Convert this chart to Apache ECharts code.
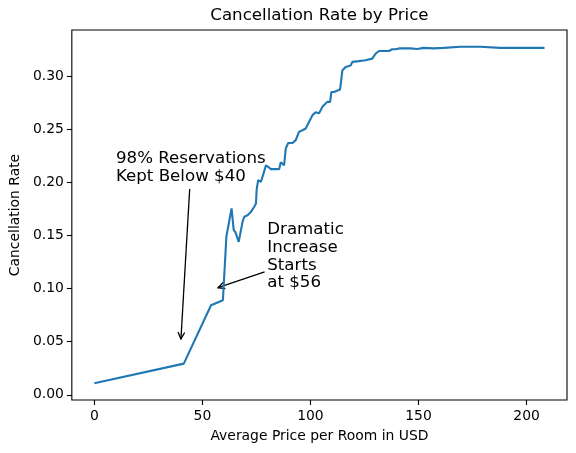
<!DOCTYPE html>
<html><head><meta charset="utf-8">
<script src="https://cdn.jsdelivr.net/npm/echarts@6/dist/echarts.min.js"></script>
<style>html,body{margin:0;padding:0;background:#fff}#c{width:576px;height:453px}</style>
</head><body><div id="c"></div>
<script>
// ---- data ----
const prices = [0, 41.4, 54.0, 59.5, 61.1, 63.5, 64.5, 65.3, 66.8, 68.6, 69.4, 70.1, 70.9, 72.4, 74.0, 74.8, 75.1, 75.8, 77.1, 78.1, 79.4, 80.4, 81.7, 84.0, 85.5, 86.3, 87.8, 88.6, 89.7, 91.7, 93.2, 94.7, 96.3, 97.8, 99.4, 100.9, 102.4, 104.0, 105.5, 107.8, 109.1, 109.7, 110.9, 113.7, 114.8, 116.3, 118.6, 119.4, 122.4, 125.5, 128.6, 130.1, 131.7, 136.3, 137.8, 139.4, 140.9, 146.3, 149.4, 152.4, 157.0, 161.7, 169.4, 178.6, 187.8, 195.5, 208.3];
const cancelRates = [0.011, 0.0294, 0.0843, 0.089, 0.149, 0.1755, 0.155, 0.153, 0.144, 0.163, 0.1676, 0.166, 0.169, 0.172, 0.177, 0.180, 0.193, 0.202, 0.2005, 0.207, 0.216, 0.2146, 0.2124, 0.2124, 0.2124, 0.219, 0.216, 0.232, 0.237, 0.237, 0.2397, 0.2475, 0.249, 0.2506, 0.257, 0.263, 0.266, 0.265, 0.271, 0.2757, 0.2757, 0.285, 0.285, 0.2873, 0.3055, 0.3085, 0.310, 0.3133, 0.314, 0.3148, 0.3164, 0.321, 0.3236, 0.3236, 0.3252, 0.3252, 0.326, 0.326, 0.3255, 0.3265, 0.326, 0.3265, 0.3275, 0.3275, 0.3265, 0.3265, 0.3265];
const xTicks = [0, 50, 100, 150, 200];
const yTicks = [0, 0.05, 0.10, 0.15, 0.20, 0.25, 0.30];
const titleText = 'Cancellation Rate by Price';
const xLabel = 'Average Price per Room in USD';
const yLabel = 'Cancellation Rate';
const annoTexts = ['98% Reservations\nKept Below $40', 'Dramatic\nIncrease\nStarts\nat $56'];
const annoPoints = [[40, 0.05], [56, 0.10]];
const annoTextPos = [[10, 0.20], [80, 0.10]];

// ---- chart ----
const FONT = '"DejaVu Sans", sans-serif';
const chart = echarts.init(document.getElementById('c'), null, {renderer: 'canvas'});
const seriesData = prices.map((p, i) => [p, cancelRates[i]]);
const xSpan = 208.3, ySpanMin = 0.011, ySpanMax = 0.3275;
const xPad = xSpan * 0.05, yPad = (ySpanMax - ySpanMin) * 0.05;

chart.setOption({
  animation: false,
  backgroundColor: '#fff',
  grid: {left: 70, top: 30, right: 9, bottom: 53, show: true, borderColor: '#000', borderWidth: 1.1, backgroundColor: 'transparent'},
  xAxis: {
    type: 'value', min: 0 - xPad, max: xSpan + xPad,
    axisLine: {show: false, onZero: false},
    splitLine: {show: false},
    axisTick: {show: true, length: 5, lineStyle: {color: '#000', width: 1.1}, customValues: xTicks},
    axisLabel: {customValues: xTicks, fontSize: 13.9, color: '#000', fontFamily: FONT, margin: 9},
    name: xLabel, nameLocation: 'middle', nameGap: 29,
    nameTextStyle: {fontSize: 13.9, color: '#000', fontFamily: FONT}
  },
  yAxis: {
    type: 'value', min: ySpanMin - yPad, max: ySpanMax + yPad,
    axisLine: {show: false, onZero: false},
    splitLine: {show: false},
    axisTick: {show: true, length: 5, lineStyle: {color: '#000', width: 1.1}, customValues: yTicks},
    axisLabel: {customValues: yTicks, fontSize: 13.9, color: '#000', fontFamily: FONT, margin: 8,
      formatter: v => v.toFixed(2)},
    name: yLabel, nameLocation: 'middle', nameGap: 48,
    nameTextStyle: {fontSize: 13.9, color: '#000', fontFamily: FONT}
  },
  series: [{
    type: 'line', data: seriesData, showSymbol: false, symbol: 'none',
    lineStyle: {color: '#1f77b4', width: 2.1}, clip: true
  }]
});

// ---- annotations, positioned through the chart's own coordinate system ----
const F = 16.67, L = 17.6, MID = 0.346;
const mctx = document.createElement('canvas').getContext('2d');
mctx.font = F + 'px ' + FONT;
const graphics = [];
function textTop(lastBaseline, n) { return lastBaseline - (n - 1) * L - L / 2 - MID * F; }

// title, centered on the plot area
const gl = chart.convertToPixel({gridIndex: 0}, [0 - xPad, ySpanMax + yPad]);
const gr = chart.convertToPixel({gridIndex: 0}, [xSpan + xPad, ySpanMin - yPad]);
graphics.push({type: 'text', x: (gl[0] + gr[0]) / 2, y: textTop(gl[1] - 8.5, 1),
  style: {text: titleText, font: F + 'px ' + FONT, fill: '#000', align: 'center', verticalAlign: 'top', lineHeight: L}});

function arrowHead(tip, ux, uy) {
  const hl = 0.4 * F, hw = 0.2 * F;
  const bx = tip[0] - ux * hl, by = tip[1] - uy * hl;
  return [[bx - uy * hw, by + ux * hw], tip, [bx + uy * hw, by - ux * hw]];
}

annoTexts.forEach((t, i) => {
  const lines = t.split('\n');
  const tp = chart.convertToPixel({gridIndex: 0}, annoTextPos[i]);
  const pp = chart.convertToPixel({gridIndex: 0}, annoPoints[i]);
  const w = Math.max(...lines.map(s => mctx.measureText(s).width));
  graphics.push({type: 'text', x: tp[0], y: textTop(tp[1], lines.length),
    style: {text: t, font: F + 'px ' + FONT, fill: '#000', align: 'left', verticalAlign: 'top', lineHeight: L}});
  // text bbox
  const left = tp[0], right = tp[0] + w;
  const firstBase = tp[1] - (lines.length - 1) * L;
  const top = firstBase - 0.76 * F, bottom = tp[1] + 0.236 * F;
  const cx = (left + right) / 2, cy = (top + bottom) / 2;
  let dx = pp[0] - cx, dy = pp[1] - cy;
  const len = Math.hypot(dx, dy);
  const ux = dx / len, uy = dy / len;
  const tx = Math.abs(dx) > 1e-6 ? (w / 2) / Math.abs(dx) : Infinity;
  const ty = Math.abs(dy) > 1e-6 ? ((bottom - top) / 2) / Math.abs(dy) : Infinity;
  const tc = Math.min(tx, ty);
  const shrink = 2.8;
  const tail = [cx + dx * tc + ux * shrink, cy + dy * tc + uy * shrink];
  const tip = [pp[0] - ux * shrink, pp[1] - uy * shrink];
  graphics.push({type: 'polyline', shape: {points: [tail, tip]}, style: {stroke: '#000', lineWidth: 1.3, fill: null}});
  graphics.push({type: 'polyline', shape: {points: arrowHead(tip, ux, uy)}, style: {stroke: '#000', lineWidth: 1.3, fill: null}});
});
chart.setOption({graphic: graphics});
</script>
</body></html>
